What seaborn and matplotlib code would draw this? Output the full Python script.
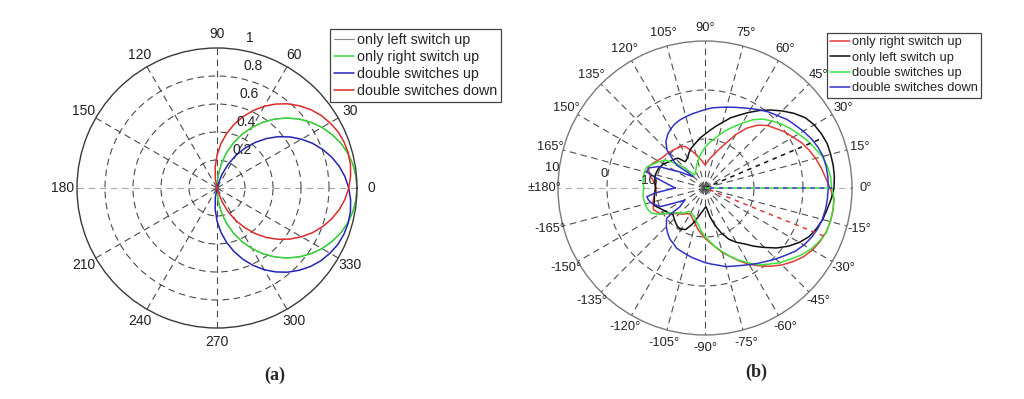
import numpy as np
import matplotlib
matplotlib.use("Agg")
import matplotlib.pyplot as plt
from matplotlib.lines import Line2D
import seaborn as sns

# ---- panel (a): normalised patterns, linear scale ----
a_angle = [-110, -105, -100, -95, -90, -85, -80, -75, -70, -65, -60, -55, -50, -45,
           -40, -35, -30, -25, -20, -15, -10, -5, 0, 5, 10, 15, 20, 25, 30, 35, 40,
           45, 50, 55, 60, 65, 70, 75, 80, 85, 90, 95, 100, 105, 110]
a_right_up = [0, 0, 0, 0, 0, .087, .174, .259, .342, .423, .500, .574, .643, .707,
              .766, .819, .866, .906, .940, .966, .985, .996, 1.0, .996, .985, .966, .940, .906,
              .866, .819, .766, .707, .643, .574, .500, .423, .342, .259, .174, .087, 0, 0, 0, 0, 0]
a_left_up = list(a_right_up)  # hidden under the green trace
a_double_up = [0, 0, .068, .151, .235, .316, .395, .470, .542, .610, .674, .732, .785, .831,
               .872, .906, .932, .953, .965, .970, .968, .958, .941, .918, .887, .849, .804, .754,
               .697, .636, .570, .500, .425, .347, .268, .185, .102, .017, 0, 0, 0, 0, 0, 0, 0]
a_double_down = [0, 0, 0, 0, 0, 0, 0, .017, .102, .185, .268, .347, .425, .500,
                 .570, .636, .697, .754, .804, .849, .887, .918, .941, .958, .968, .970, .965, .953,
                 .932, .906, .872, .831, .785, .732, .674, .610, .542, .470, .395, .316, .235, .151,
                 .068, 0, 0]
a_rticks = [0.2, 0.4, 0.6, 0.8, 1.0]
a_rlabels = ["0.2", "0.4", "0.6", "0.8", "1"]
a_legend = ["only left switch up", "only right switch up",
            "double switches up", "double switches down"]

# ---- panel (b): measured patterns in dB ----
b_right_ang = [-180, -172, -165, -157, -150, -142, -135, -130, -125, -120, -115, -110,
               -105, -100, -95, -90, -85, -80, -75, -70, -65, -60, -55, -50, -45, -40,
               -35, -30, -25, -20, -15, -10, -5, 0, 5, 10, 15, 20, 25, 30, 35, 40, 45,
               50, 55, 60, 65, 70, 75, 80, 85, 90, 95, 100, 105, 110, 115, 120, 125,
               130, 137, 143, 150, 154, 160, 167, 174, 180]
b_right_db = [-10.0, -9.6, -9.0, -8.6, -9.5, -11.5, -12.6, -13.0, -13.6, -13.9, -13.55, -13.0,
              -12.4, -11.5, -10.7, -9.8, -8.84, -7.78, -6.37, -5.14, -3.63, -2.0, -0.6, 0.85, 2.2, 3.4,
              4.5, 5.3, 5.9, 6.3, 6.5, 6.53, 6.41, 5.53, 4.69, 4.04, 3.37, 2.61, 1.8, 0.73, -0.07, -1.12, -1.96,
              -3.26, -5.06, -7.4, -9.9, -11.6, -12.9, -13.8, -14.65, -15.3, -14.6, -13.9, -12.9, -11.9, -10.7, -10.2, -10.1,
              -9.9, -9.6, -9.4, -8.8, -8.3, -7.6, -8.5, -9.6, -10.0]

b_left_ang = [-180, -175, -170, -165, -162, -160, -155, -150, -145, -140, -135, -130,
              -125, -120, -115, -110, -105, -100, -95, -87, -85, -80, -75, -70, -65, -60,
              -55, -50, -45, -40, -35, -30, -25, -20, -15, -10, -5, 0, 5, 10, 15, 20,
              25, 30, 35, 40, 45, 50, 55, 60, 65, 70, 75, 80, 85, 90, 95, 100, 105,
              110, 115, 120, 127, 132, 137, 143, 150, 157, 165, 172, 180]
b_left_db = [-9.9, -9.7, -9.5, -9.3, -9.0, -9.2, -10.0, -10.6, -11.1, -11.5, -11.1, -10.7,
             -10.3, -10.3, -10.65, -12.0, -13.5, -14.6, -15.4, -16.2, -15.75, -14.0, -12.1, -10.2, -8.45, -7.2,
             -6.1, -4.49, -2.84, -0.96, 0.72, 2.22, 3.45, 4.22, 4.87, 5.29, 5.84, 6.33, 6.5, 6.57, 6.55, 6.53,
             6.2, 5.75, 5.0, 3.7, 2.25, 0.78, -0.7, -2.2, -3.6, -4.76, -6.14, -7.2, -8.18, -9.0, -9.67, -10.4, -11.0,
             -11.5, -12.2, -12.9, -13.3, -11.8, -11.4, -11.0, -10.2, -9.7, -9.5, -9.7, -9.9]

b_up_ang = [-180, -175, -170, -165, -160, -155, -150, -145, -140, -135, -130, -125,
            -120, -115, -110, -105, -100, -95, -90, -85, -80, -75, -70, -65, -60, -55,
            -50, -45, -40, -35, -30, -25, -20, -15, -10, -5, 0, 5, 10, 15, 20, 25, 30,
            35, 40, 45, 50, 55, 60, 65, 70, 75, 80, 85, 90, 95, 100, 105, 110, 115,
            120, 125, 130, 135, 140, 145, 150, 155, 160, 165, 170, 175, 180]
b_up_db = [-7.5, -7.3, -7.25, -7.37, -7.5, -7.9, -9.27, -11.15, -12.1, -12.8, -13.3, -14.2,
           -14.2, -14.06, -13.7, -13.06, -12.3, -11.2, -10.06, -9.08, -7.78, -6.59, -5.18, -3.8, -2.37, -0.82,
           0.29, 1.59, 2.67, 3.88, 4.96, 5.73, 6.39, 6.43, 6.49, 6.47, 5.86, 5.73, 5.37, 4.8, 3.83, 3.0, 2.06,
           1.2, 0.35, -0.69, -1.63, -3.0, -4.7, -6.2, -7.5, -8.8, -9.96, -10.8, -11.7, -12.7, -13.5, -14.4, -15.0, -15.7,
           -16.1, -16.5, -16.5, -14.3, -12.1, -10.1, -9.2, -8.4, -7.4, -7.2, -7.2, -7.3, -7.5]

b_down_ang = [-180, -176.4, -174.3, -171.5, -168, -164, -157.4, -154.2, -149, -143.2, -142.8,
              -141.6, -140, -135, -130, -125, -120, -115, -110, -105, -100, -95, -90, -85,
              -80, -75, -70, -65, -60, -55, -50, -45, -40, -35, -30, -25, -20, -15, -10,
              -5, 0, 5, 10, 15, 20, 25, 30, 35, 40, 45, 50, 55, 60, 65, 70, 75, 80, 85,
              90, 95, 100, 105, 110, 115, 120, 125, 130, 135, 140, 141, 138.3, 136, 148,
              152.6, 155, 160.3, 164.4, 167, 171.2, 180]
b_down_db = [-13.9, -11.8, -9.75, -8.0, -8.2, -8.7, -10.1, -12.8, -15.2, -13.6, -11.5,
             -10.0, -9.74, -8.84, -8.1, -7.4, -6.98, -6.4, -6.2, -5.88, -5.53, -5.22, -4.78, -4.4,
             -3.98, -3.39, -3.04, -2.55, -1.94, -1.22, -0.47, 0.47, 1.39, 2.49, 3.3, 3.95, 4.45, 4.78, 4.98,
             5.08, 5.14, 5.18, 5.12, 4.96, 4.5, 3.9, 3.16, 2.43, 1.8, 0.9, 0.24, -0.53, -1.29, -1.96, -2.47, -2.92, -3.3, -3.59,
             -4.0, -4.39, -4.65, -4.94, -5.18, -5.53, -6.04, -6.7, -7.6, -9.0, -12.0, -12.55, -15.0, -16.7, -13.7,
             -11.65, -9.6, -7.86, -7.65, -9.1, -11.3, -13.9]

# main-beam direction markers (dashed): left, right, double up, double down
b_beam_ang = [23, -22, 0, 0]
b_beam_db = [6.4, 6.3, 5.9, 5.9]

b_rticks = [-10, 0, 10]
b_theta = [0, 15, 30, 45, 60, 75, 90, 105, 120, 135, 150, 165, 180,
           195, 210, 225, 240, 255, 270, 285, 300, 315, 330, 345]
b_theta_labels = ["0°", "15°", "30°", "45°", "60°", "75°", "90°", "105°", "120°",
                  "135°", "150°", "165°", "±180°", "-165°", "-150°", "-135°", "-120°",
                  "-105°", "-90°", "-75°", "-60°", "-45°", "-30°", "-15°"]
b_legend = ["only right switch up", "only left switch up",
            "double switches up", "double switches down"]

sns.set_style("white")
plt.rcParams['font.family'] = ['Liberation Sans', 'DejaVu Sans']

fig = plt.figure(figsize=(10.24, 3.99), dpi=100)
ax_a = fig.add_axes([77 / 1024, 1 - 328 / 399, 280 / 1024, 280 / 399], projection='polar')
ax_b = fig.add_axes([558 / 1024, 1 - 335 / 399, 294 / 1024, 294 / 399], projection='polar')


def draw(ax, ang, vals, color, lw=1.1, ls='-'):
    sns.lineplot(x=np.deg2rad(ang), y=vals, ax=ax, color=color, linewidth=lw,
                 linestyle=ls, sort=False, estimator=None, legend=False)


def style_grid(ax, grid_color, edge_color):
    ax.grid(True, color=grid_color, linestyle=(0, (6, 4)), linewidth=0.8)
    ax.spines['polar'].set_color(edge_color)
    ax.spines['polar'].set_linewidth(1.0)
    ax.set_xticklabels([])
    ax.set_yticklabels([])
    ax.set_xlabel('')
    ax.set_ylabel('')
    ax.tick_params(length=0)


# ----- (a) -----
a_cols = ['#8a8a8a', '#35d335', '#2424b4', '#dd2a2a']
draw(ax_a, a_angle, a_left_up, a_cols[0], lw=0.8)
draw(ax_a, a_angle, a_right_up, a_cols[1])
draw(ax_a, a_angle, a_double_up, a_cols[2])
draw(ax_a, a_angle, a_double_down, a_cols[3])
ax_a.set_ylim(0, 1)
ax_a.set_rticks(a_rticks[:-1])
ax_a.set_thetagrids(range(0, 360, 30))
style_grid(ax_a, '#4a4a4a', '#3a3a3a')
for i, gl in enumerate(ax_a.xaxis.get_gridlines()):
    if i in (0, 6):
        gl.set_color('#a8a8a8')
for t in range(0, 360, 30):
    ax_a.text(np.deg2rad(t), 1.1, str(t), ha='center', va='center', fontsize=10, color='#222')
for v, s in zip(a_rticks, a_rlabels):
    x, y = 0.09 + 0.12 * v, v + 0.07
    ax_a.text(np.arctan2(y, x), np.hypot(x, y), s, ha='left', va='center',
              fontsize=10, color='#222')

h_a = [Line2D([], [], color=c, lw=1.1 if i else 0.8) for i, c in enumerate(a_cols)]
leg_a = ax_a.legend(h_a, a_legend, loc='upper left', bbox_to_anchor=(330 / 1024, 1 - 29 / 399),
                    bbox_transform=fig.transFigure, borderaxespad=0, fontsize=10.3,
                    handlelength=1.45, handletextpad=0.2, labelspacing=0.22,
                    borderpad=0.25, fancybox=False, framealpha=1)
leg_a.get_frame().set_edgecolor('#444')
leg_a.get_frame().set_linewidth(0.9)

# ----- (b) -----
b_cols = ['#e43a3a', '#111111', '#3de23d', '#3232c6']
draw(ax_b, b_right_ang, b_right_db, b_cols[0])
draw(ax_b, b_left_ang, b_left_db, b_cols[1])
draw(ax_b, b_up_ang, b_up_db, b_cols[2])
draw(ax_b, b_down_ang, b_down_db, b_cols[3])
beam_cols = [b_cols[1], b_cols[0], b_cols[2], b_cols[3]]
for k, (ang, g) in enumerate(zip(b_beam_ang, b_beam_db)):
    sns.lineplot(x=np.deg2rad([ang, ang]), y=[-20, g], ax=ax_b, color=beam_cols[k],
                 linewidth=1.1, linestyle=(k % 2 * 3, (3, 3)), sort=False,
                 estimator=None, legend=False)
ax_b.set_ylim(-20, 10)
ax_b.set_rticks(b_rticks[:-1])
ax_b.set_thetagrids(b_theta)
style_grid(ax_b, '#4f4f4f', '#7a7a7a')
for i, gl in enumerate(ax_b.xaxis.get_gridlines()):
    if i in (0, 12):
        gl.set_color('#b0b0b0')
for t, s in zip(b_theta, b_theta_labels):
    ax_b.text(np.deg2rad(t), -20 + 1.09 * 30, s, ha='center', va='center',
              fontsize=9.3, color='#222')
for v in b_rticks:
    ax_b.text(np.deg2rad(172), v, str(v), ha='right', va='center', fontsize=9.3, color='#222')

h_b = [Line2D([], [], color=c, lw=1.1) for c in b_cols]
leg_b = ax_b.legend(h_b, b_legend, loc='upper left', bbox_to_anchor=(827 / 1024, 1 - 33 / 399),
                    bbox_transform=fig.transFigure, borderaxespad=0, fontsize=9.3,
                    handlelength=1.5, handletextpad=0.2, labelspacing=0.26,
                    borderpad=0.25, fancybox=False, framealpha=1)
leg_b.get_frame().set_edgecolor('#444')
leg_b.get_frame().set_linewidth(0.9)

fig.text(275 / 1024, 1 - 375 / 399, "(a)", ha='center', va='center', fontsize=13,
         fontweight='bold', family=['Liberation Serif', 'DejaVu Serif'])
fig.text(756 / 1024, 1 - 372 / 399, "(b)", ha='center', va='center', fontsize=13,
         fontweight='bold', family=['Liberation Serif', 'DejaVu Serif'])

fig.savefig("out.png", dpi=100)
